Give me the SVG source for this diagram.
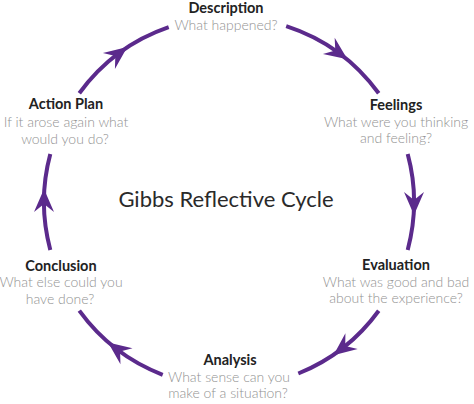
<svg xmlns="http://www.w3.org/2000/svg" xmlns:xlink="http://www.w3.org/1999/xlink" width="474" height="404" viewBox="0 0 474 404">
<style>
.h{font-family:Lato,"Liberation Sans",sans-serif;font-weight:700;font-size:14.5px;fill:#222;text-anchor:middle}
.s{font-family:Lato,"Liberation Sans",sans-serif;font-weight:300;font-size:14px;fill:#929292;text-anchor:middle}
.t{font-family:Lato,"Liberation Sans",sans-serif;font-weight:400;font-size:22px;fill:#2a2a2a;text-anchor:middle}
.arc{fill:none;stroke:#5b2a8c;stroke-width:4;stroke-linecap:butt}
.ah{fill:#5b2a8c}
</style>
<defs>
<path id="ah" d="M12,0 L-11,-10 L-3,0 L-11,10 Z"/>
</defs>
<rect width="474" height="404" fill="#fff"/>
<g id="connectors">
<path class="arc" d="M286.2,26.1 A185,185 0 0 1 378.7,93.3"/>
<path class="arc" d="M407.7,154.1 A185,185 0 0 1 407.7,249.9"/>
<path class="arc" d="M378.7,310.7 A185,185 0 0 1 298.3,373.5"/>
<path class="arc" d="M162.7,374.8 A185,185 0 0 1 79.3,310.7"/>
<path class="arc" d="M50.3,249.9 A185,185 0 0 1 50.3,154.1"/>
<path class="arc" d="M79.3,93.3 A185,185 0 0 1 168.7,27.2"/>
<use class="ah" xlink:href="#ah" transform="translate(337.7,52.3) rotate(36)"/>
<use class="ah" xlink:href="#ah" transform="translate(414,203) rotate(90)"/>
<use class="ah" xlink:href="#ah" transform="translate(342.9,347.8) rotate(142)"/>
<use class="ah" xlink:href="#ah" transform="translate(117.7,349.7) rotate(217)"/>
<use class="ah" xlink:href="#ah" transform="translate(44,201) rotate(270)"/>
<use class="ah" xlink:href="#ah" transform="translate(117.7,54.3) rotate(323)"/>
</g>
<g id="title"><text class="t" x="226" y="207">Gibbs Reflective Cycle</text></g>
<g id="description">
<text class="h" x="226" y="13">Description</text>
<text class="s" x="226" y="30">What happened?</text>
</g>
<g id="feelings">
<text class="h" x="396" y="110">Feelings</text>
<text class="s" x="396" y="127">What were you thinking</text>
<text class="s" x="396" y="143">and feeling?</text>
</g>
<g id="evaluation">
<text class="h" x="396" y="270">Evaluation</text>
<text class="s" x="396" y="287">What was good and bad</text>
<text class="s" x="396" y="303">about the experience?</text>
</g>
<g id="analysis">
<text class="h" x="230" y="365">Analysis</text>
<text class="s" x="229" y="382">What sense can you</text>
<text class="s" x="228" y="398">make of a situation?</text>
</g>
<g id="conclusion">
<text class="h" x="61" y="271">Conclusion</text>
<text class="s" x="61" y="287">What else could you</text>
<text class="s" x="60" y="304">have done?</text>
</g>
<g id="action-plan">
<text class="h" x="66" y="109">Action Plan</text>
<text class="s" x="66" y="127">If it arose again what</text>
<text class="s" x="65" y="144">would you do?</text>
</g>
</svg>
